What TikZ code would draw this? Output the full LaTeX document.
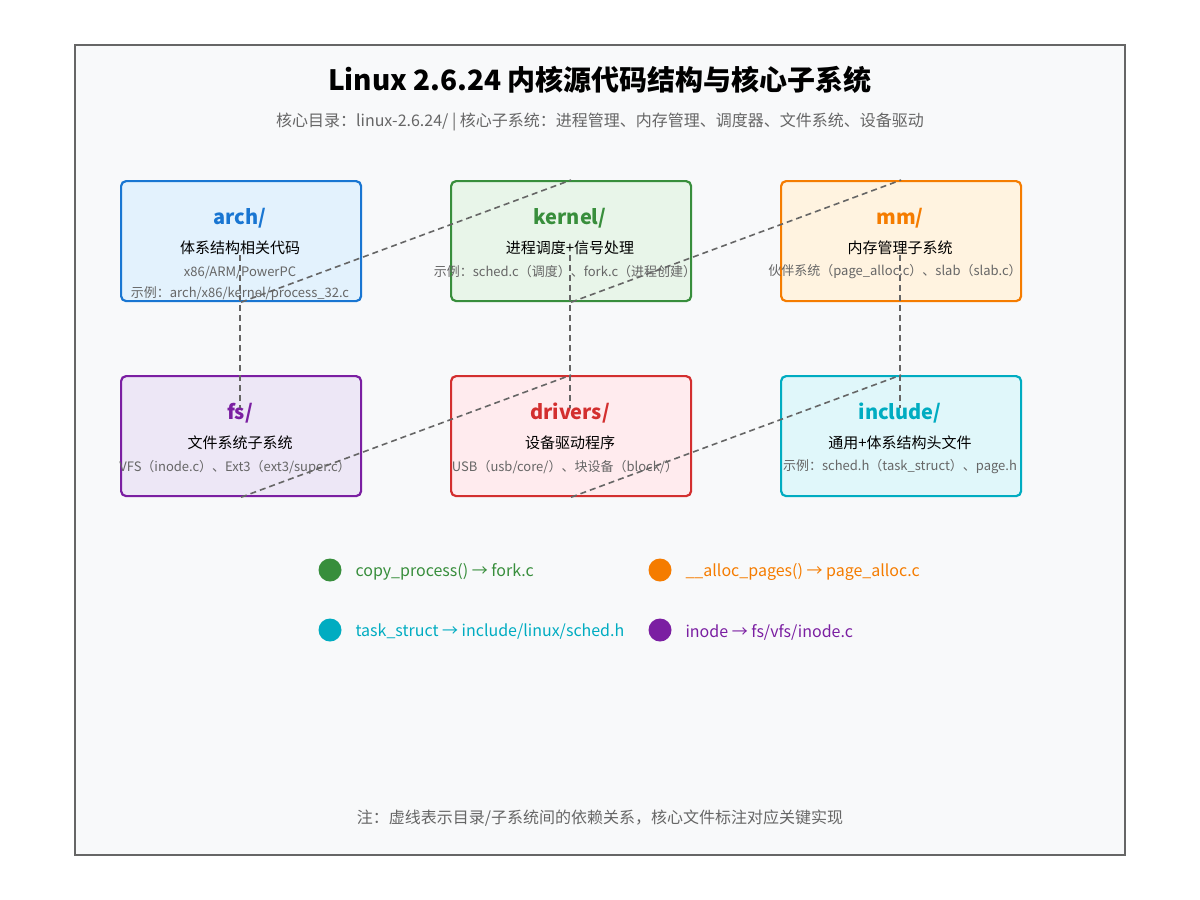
\documentclass[tikz,border=0pt]{standalone}
\usepackage{fontspec}
\setmainfont{Noto Sans CJK SC}
\definecolor{cA}{HTML}{1976D2}\definecolor{fA}{HTML}{E3F2FD}
\definecolor{cK}{HTML}{388E3C}\definecolor{fK}{HTML}{E8F5E9}
\definecolor{cM}{HTML}{F57C00}\definecolor{fM}{HTML}{FFF3E0}
\definecolor{cF}{HTML}{7B1FA2}\definecolor{fF}{HTML}{EDE7F6}
\definecolor{cD}{HTML}{D32F2F}\definecolor{fD}{HTML}{FFEBEE}
\definecolor{cI}{HTML}{00ACC1}\definecolor{fI}{HTML}{E0F7FA}
\definecolor{bg}{HTML}{F8F9FA}\definecolor{gr}{HTML}{666666}
\begin{document}
\begin{tikzpicture}[x=1pt,y=-1pt,
 box/.style={draw=#1,line width=2.2pt,rounded corners=5pt,minimum width=240pt,minimum height=120pt,anchor=north west},
 hd/.style={font=\fontsize{20}{24}\selectfont\bfseries,text=#1},
 sub/.style={font=\fontsize{15}{18}\selectfont},
 sm/.style={font=\fontsize{13}{16}\selectfont,text=gr},
 dep/.style={draw=gr,dashed,line width=1.6pt,dash pattern=on 6pt off 4pt},
 dot/.style={circle,fill=#1,minimum size=23pt,inner sep=0pt},
 lg/.style={anchor=west,font=\fontsize{16}{19}\selectfont,text=#1}]
\useasboundingbox (0,0) rectangle (1200,900);
\draw[gr,line width=1.2pt,fill=bg] (75,45) rectangle (1125,855);
\node[font=\fontsize{28}{32}\selectfont\bfseries] (title) at (600,80) {Linux 2.6.24 内核源代码结构与核心子系统};
\node[font=\fontsize{16}{19}\selectfont,text=gr] (subt) at (600,122) {核心目录：linux-2.6.24/ | 核心子系统：进程管理、内存管理、调度器、文件系统、设备驱动};
\node[box=cA,fill=fA] (arch) at (120,180) {};
\node[box=cK,fill=fK] (kern) at (450,180) {};
\node[box=cM,fill=fM] (mm) at (780,180) {};
\node[box=cF,fill=fF] (fs) at (120,375) {};
\node[box=cD,fill=fD] (drv) at (450,375) {};
\node[box=cI,fill=fI] (inc) at (780,375) {};
\node[hd=cA] (a1) at (240,218) {arch/};
\node[sub] (a2) at (240,248) {体系结构相关代码};
\node[sm] (a3) at (240,272) {x86/ARM/PowerPC};
\node[sm] (a4) at (240,294) {示例：arch/x86/kernel/process\_32.c};
\node[hd=cK] (k1) at (570,218) {kernel/};
\node[sub] (k2) at (570,248) {进程调度+信号处理};
\node[sm] (k3) at (565,272) {示例：sched.c（调度）、fork.c（进程创建）};
\node[hd=cM] (m1) at (900,218) {mm/};
\node[sub] (m2) at (900,248) {内存管理子系统};
\node[sm] (m3) at (895,272) {伙伴系统（page\_alloc.c）、slab（slab.c）};
\node[hd=cF] (f1) at (240,413) {fs/};
\node[sub] (f2) at (240,443) {文件系统子系统};
\node[sm] (f3) at (235,467) {VFS（inode.c）、Ext3（ext3/super.c）};
\node[hd=cD] (d1) at (570,413) {drivers/};
\node[sub] (d2) at (570,443) {设备驱动程序};
\node[sm] (d3) at (565,467) {USB（usb/core/）、块设备（block/）};
\node[hd=cI] (i1) at (900,413) {include/};
\node[sub] (i2) at (900,443) {通用+体系结构头文件};
\node[sm] (i3) at (900,467) {示例：sched.h（task\_struct）、page.h};
\coordinate (p1) at (240,255); \coordinate (q1) at (240,408);
\coordinate (p2) at (570,255); \coordinate (q2) at (570,408);
\coordinate (p3) at (900,255); \coordinate (q3) at (900,408);
\draw[dep] (p1) -- (q1); \draw[dep] (p2) -- (q2); \draw[dep] (p3) -- (q3);
\draw[dep] (arch.south) -- (kern.north); \draw[dep] (kern.south) -- (mm.north);
\draw[dep] (fs.south) -- (drv.north); \draw[dep] (drv.south) -- (inc.north);
\node[dot=cK] (l1) at (330,570) {}; \node[lg=cK] (t1) at (352,572) {copy\_process() → fork.c};
\node[dot=cM] (l2) at (660,570) {}; \node[lg=cM] (t2) at (682,572) {\_\_alloc\_pages() → page\_alloc.c};
\node[dot=cI] (l3) at (330,630) {}; \node[lg=cI] (t3) at (352,632) {task\_struct → include/linux/sched.h};
\node[dot=cF] (l4) at (660,630) {}; \node[lg=cF] (t4) at (682,632) {inode → fs/vfs/inode.c};
\node[font=\fontsize{16}{19}\selectfont,text=gr] (foot) at (600,818) {注：虚线表示目录/子系统间的依赖关系，核心文件标注对应关键实现};
\end{tikzpicture}
\end{document}
